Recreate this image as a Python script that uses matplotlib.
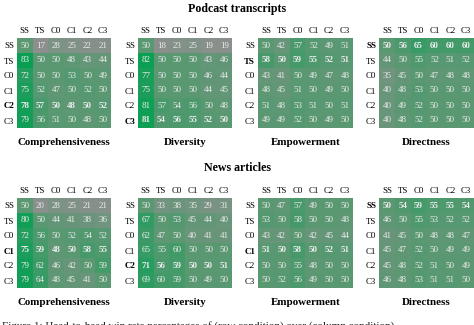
import numpy as np
import matplotlib
matplotlib.use("Agg")
import matplotlib.pyplot as plt
from matplotlib.colors import LinearSegmentedColormap

plt.rcParams['font.family'] = ['Liberation Serif', 'DejaVu Serif']

conditions = ["SS", "TS", "C0", "C1", "C2", "C3"]
metrics = ["Comprehensiveness", "Diversity", "Empowerment", "Directness"]

# Podcast transcripts: win rate (%) of row condition over column condition
podcast_comprehensiveness = [
    [50, 17, 28, 25, 22, 21],
    [83, 50, 50, 48, 43, 44],
    [72, 50, 50, 53, 50, 49],
    [75, 52, 47, 50, 52, 50],
    [78, 57, 50, 48, 50, 52],
    [79, 56, 51, 50, 48, 50],
]
podcast_diversity = [
    [50, 18, 23, 25, 19, 19],
    [82, 50, 50, 50, 43, 46],
    [77, 50, 50, 50, 46, 44],
    [75, 50, 50, 50, 44, 45],
    [81, 57, 54, 56, 50, 48],
    [81, 54, 56, 55, 52, 50],
]
podcast_empowerment = [
    [50, 42, 57, 52, 49, 51],
    [58, 50, 59, 55, 52, 51],
    [43, 41, 50, 49, 47, 48],
    [48, 45, 51, 50, 49, 50],
    [51, 48, 53, 51, 50, 51],
    [49, 49, 52, 50, 49, 50],
]
podcast_directness = [
    [50, 56, 65, 60, 60, 60],
    [44, 50, 55, 52, 51, 52],
    [35, 45, 50, 47, 48, 48],
    [40, 48, 53, 50, 50, 50],
    [40, 49, 52, 50, 50, 50],
    [40, 48, 52, 50, 50, 50],
]

# News articles
news_comprehensiveness = [
    [50, 20, 28, 25, 21, 21],
    [80, 50, 44, 41, 38, 36],
    [72, 56, 50, 52, 54, 52],
    [75, 59, 48, 50, 58, 55],
    [79, 62, 46, 42, 50, 59],
    [79, 64, 48, 45, 41, 50],
]
news_diversity = [
    [50, 33, 38, 35, 29, 31],
    [67, 50, 53, 45, 44, 40],
    [62, 47, 50, 40, 41, 41],
    [65, 55, 60, 50, 50, 50],
    [71, 56, 59, 50, 50, 51],
    [69, 60, 59, 50, 49, 50],
]
news_empowerment = [
    [50, 47, 57, 49, 50, 50],
    [53, 50, 58, 50, 50, 48],
    [43, 42, 50, 42, 45, 44],
    [51, 50, 58, 50, 52, 51],
    [50, 50, 55, 48, 50, 50],
    [50, 52, 56, 49, 50, 50],
]
news_directness = [
    [50, 54, 59, 55, 55, 54],
    [46, 50, 55, 53, 52, 52],
    [41, 45, 50, 48, 48, 47],
    [45, 47, 52, 50, 49, 49],
    [45, 48, 52, 51, 50, 49],
    [46, 48, 53, 51, 51, 50],
]

# Row index of the highlighted (bold) condition in each panel
podcast_bold_rows = [4, 5, 1, 0]
news_bold_rows = [3, 4, 3, 0]

podcast = [podcast_comprehensiveness, podcast_diversity, podcast_empowerment, podcast_directness]
news = [news_comprehensiveness, news_diversity, news_empowerment, news_directness]

cmap = LinearSegmentedColormap.from_list(
    "grey_green", [(0.0, "#8f8f8f"), (0.5, "#5b9873"), (1.0, "#05a052")])

W, H = 474, 325
fig = plt.figure(figsize=(W / 100, H / 100), dpi=100)

panel_left = [17, 138, 258, 379]
panel_width = [94, 94, 95, 95]
row_tops = [38, 198]
panel_height = 90


def draw_panel(left, top, width, data, bold_row, title):
    ax = fig.add_axes([left / W, 1 - (top + panel_height) / H, width / W, panel_height / H])
    arr = np.array(data, dtype=float)
    ax.imshow(arr, cmap=cmap, vmin=15, vmax=85, aspect="auto", interpolation="nearest")
    for i in range(arr.shape[0]):
        for j in range(arr.shape[1]):
            ax.text(j, i, f"{int(arr[i, j])}", ha="center", va="center",
                    fontsize=6.5, color="#ececec",
                    fontweight="bold" if i == bold_row else "normal")
    ax.set_xticks(range(len(conditions)))
    ax.set_yticks(range(len(conditions)))
    ax.xaxis.tick_top()
    ax.set_xticklabels(conditions, fontsize=6.4)
    ax.set_yticklabels(conditions, fontsize=6.4)
    for k, lab in enumerate(ax.get_yticklabels()):
        if k == bold_row:
            lab.set_fontweight("bold")
    ax.tick_params(length=0, pad=2)
    for s in ax.spines.values():
        s.set_visible(False)
    ax.set_xlabel(title, fontsize=7.9, fontweight="bold", labelpad=7)


for k in range(4):
    draw_panel(panel_left[k], row_tops[0], panel_width[k], podcast[k], podcast_bold_rows[k], metrics[k])
    draw_panel(panel_left[k], row_tops[1], panel_width[k], news[k], news_bold_rows[k], metrics[k])

fig.text(0.5, 1 - 9 / H, "Podcast transcripts", ha="center", va="center",
         fontsize=8.6, fontweight="bold")
fig.text(0.5, 1 - 168 / H, "News articles", ha="center", va="center",
         fontsize=8.6, fontweight="bold")
fig.text(2 / W, 1 - 321.5 / H,
         "Figure 1: Head-to-head win rate percentages of (row condition) over (column condition).",
         ha="left", va="top", fontsize=8, color="#222222")

fig.savefig("out.png", dpi=100)
